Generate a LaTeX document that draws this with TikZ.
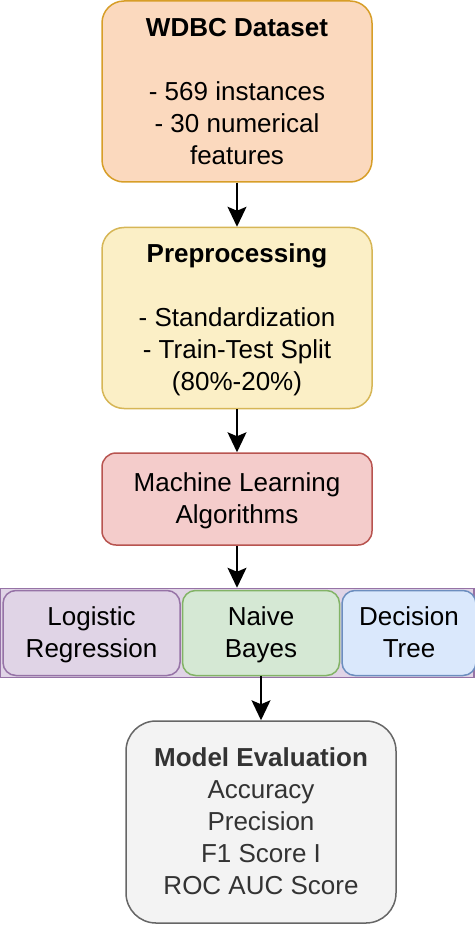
\documentclass[tikz,border=0pt]{standalone}
\usepackage{fontspec}
\setmainfont{Liberation Sans}
\usetikzlibrary{positioning,arrows.meta}
\definecolor{datafill}{RGB}{251,217,190}
\definecolor{dataline}{RGB}{215,158,40}
\definecolor{prepfill}{RGB}{251,239,198}
\definecolor{prepline}{RGB}{214,182,86}
\definecolor{mlfill}{RGB}{244,204,203}
\definecolor{mlline}{RGB}{184,84,80}
\definecolor{logfill}{RGB}{224,212,230}
\definecolor{logline}{RGB}{150,115,166}
\definecolor{nbfill}{RGB}{213,232,212}
\definecolor{nbline}{RGB}{130,179,102}
\definecolor{dtfill}{RGB}{218,232,252}
\definecolor{dtline}{RGB}{108,142,191}
\definecolor{evalfill}{RGB}{243,243,243}
\definecolor{evalline}{RGB}{102,102,102}
\definecolor{evaltext}{RGB}{51,51,51}
\newcommand{\firstline}{\rule{0pt}{27pt}}
\tikzstyle{stage} = [rectangle, rounded corners=22pt, minimum width=270pt, minimum height=181pt, align=center, inner sep=0pt, line width=1.5pt]
\tikzstyle{algo} = [rectangle, rounded corners=13pt, minimum height=85pt, align=center, inner sep=0pt, line width=1.5pt]
\tikzstyle{arrow} = [line width=1.6pt, -{Stealth[length=20pt, width=19pt, inset=4pt]}]

\begin{document}
\begin{tikzpicture}[x=1pt, y=1pt, node distance=44pt, every node/.style={font=\fontsize{26}{32}\selectfont, execute at end node=\strut}]
\useasboundingbox (0,0) rectangle (474,-925);
\node (data) [stage, draw=dataline, fill=datafill] at (237,-91.5) {\firstline\textbf{WDBC Dataset}\\[32pt]- 569 instances\\- 30 numerical\\features};
\node (prep) [stage, draw=prepline, fill=prepfill, below=of data] {\firstline\textbf{Preprocessing}\\[32pt]- Standardization\\- Train-Test Split\\(80\%-20\%)};
\draw [arrow] (data) -- (prep);
\node (ml) [stage, draw=mlline, fill=mlfill, minimum height=92pt, rounded corners=14pt, below=43pt of prep] {\firstline Machine Learning\\Algorithms};
\draw [arrow] (prep) -- (ml);
\node (band) [rectangle, draw=logline, fill=logfill, line width=1.5pt, minimum width=474pt, minimum height=89pt, below=42pt of ml] {};
\node (logreg) [algo, draw=logline, fill=logfill, minimum width=177pt, right=3pt of band.west] {\firstline Logistic\\Regression};
\node (naive) [algo, draw=nbline, fill=nbfill, minimum width=157pt, right=1pt of logreg] {\firstline Naive\\Bayes};
\node (tree) [algo, draw=dtline, fill=dtfill, minimum width=134pt, right=1pt of naive] {\firstline Decision\\Tree};
\draw [arrow] (ml) -- (band);
\node (eval) [stage, draw=evalline, fill=evalfill, text=evaltext, minimum height=202pt, rounded corners=30pt, below=44pt of naive] {\firstline\textbf{Model Evaluation}\\Accuracy\\Precision\\F1 Score I\\ROC AUC Score};
\draw [arrow] (naive) -- (eval);
\end{tikzpicture}
\end{document}
